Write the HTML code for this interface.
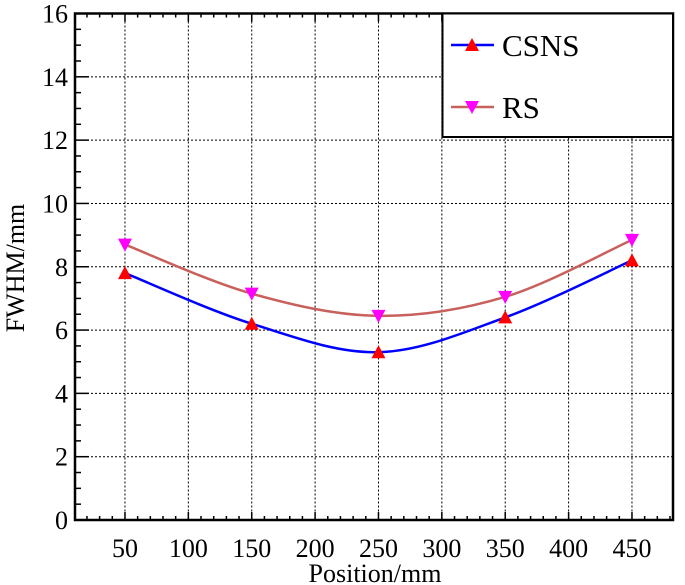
<!DOCTYPE html>
<html><head><meta charset="utf-8"><style>
body{margin:0;background:#fff}
svg{display:block}
text{font-family:"Liberation Serif","DejaVu Serif",serif}
</style></head><body>
<svg id="c" width="685" height="585" xmlns="http://www.w3.org/2000/svg"></svg>
<script>
const positions=[50,150,250,350,450];
const csnsValues=[7.8,6.2,5.3,6.4,8.2];
const rsValues=[8.7,7.15,6.45,7.05,8.85];
const xTicks=[50,100,150,200,250,300,350,400,450];
const yTicks=[0,2,4,6,8,10,12,14,16];
const NS='http://www.w3.org/2000/svg';
const svg=document.getElementById('c');
const L=75,R=673,T=13.5,B=520;
const FF='Liberation Serif, serif';
const X=v=>61.6+1.2675*v;
const Y=v=>B-(B-T)*v/16;
function mk(t,a,p){const e=document.createElementNS(NS,t);for(const k in a)e.setAttribute(k,a[k]);if(t==='text')e.setAttribute('font-family',FF);(p||svg).appendChild(e);return e;}
xTicks.forEach(v=>{const g=mk('line',{x1:X(v),x2:X(v),y1:T,y2:B,stroke:'#000','stroke-width':1,'stroke-dasharray':'2,2'});

});
yTicks.forEach(v=>{if(v==0||v==16)return;const g=mk('line',{x1:L,x2:R,y1:Y(v),y2:Y(v),stroke:'#000','stroke-width':1,'stroke-dasharray':'2,2'});

});
for(let v=20;v<=480;v+=10){const len=(v%50==0)?8:4;
mk('line',{x1:X(v),x2:X(v),y1:B,y2:B-len,stroke:'#000','stroke-width':1.5});
mk('line',{x1:X(v),x2:X(v),y1:T,y2:T+len,stroke:'#000','stroke-width':1.5});}
for(let v=0;v<=16;v+=0.5){const len=(v%2==0)?14:6;
mk('line',{x1:L,x2:L+len,y1:Y(v),y2:Y(v),stroke:'#000','stroke-width':1.5});}
const fr=mk('rect',{x:L,y:T,width:R-L,height:B-T,fill:'none',stroke:'#000','stroke-width':2.5});


yTicks.forEach(v=>{const t=mk('text',{x:68,y:Y(v)+9,'text-anchor':'end','font-size':26});t.textContent=v;

});
xTicks.forEach(v=>{const t=mk('text',{x:X(v),y:557,'text-anchor':'middle','font-size':26});t.textContent=v;

});
const xt=mk('text',{x:375,y:582,'text-anchor':'middle','font-size':26});xt.textContent='Position/mm';


const yt=mk('text',{x:0,y:0,'text-anchor':'middle','font-size':26,transform:'translate(24,268) rotate(-90)'});yt.textContent='FWHM/mm';


function curve(vals){const p=positions.map((x,i)=>[X(x),Y(vals[i])]);let d='M'+p[0][0]+','+p[0][1];
for(let i=0;i<p.length-1;i++){const p0=p[i-1]||p[i],p1=p[i],p2=p[i+1],p3=p[i+2]||p[i+1];
d+=` C${p1[0]+(p2[0]-p0[0])/6},${p1[1]+(p2[1]-p0[1])/6} ${p2[0]-(p3[0]-p1[0])/6},${p2[1]-(p3[1]-p1[1])/6} ${p2[0]},${p2[1]}`;}return d;}
const rl=mk('path',{d:curve(rsValues),fill:'none',stroke:'#c8605c','stroke-width':2.5});


const cl=mk('path',{d:curve(csnsValues),fill:'none',stroke:'#0000ff','stroke-width':2.5});


function up(x,y){return `${x-7},${y+6} ${x+7},${y+6} ${x},${y-7}`;}
function down(x,y){return `${x-7},${y-6} ${x+7},${y-6} ${x},${y+7}`;}
positions.forEach((p,i)=>{const m=mk('polygon',{points:up(X(p),Y(csnsValues[i])),fill:'#ff0000'});


const n=mk('polygon',{points:down(X(p),Y(rsValues[i])),fill:'#ff00ff'});

});
const lg=mk('g',{});


mk('rect',{x:442.5,y:T,width:R-442.5,height:137-T,fill:'#fff',stroke:'#000','stroke-width':2},lg);
mk('line',{x1:451,x2:494,y1:45,y2:45,stroke:'#0000ff','stroke-width':2.5},lg);
mk('polygon',{points:up(472,45),fill:'#ff0000'},lg);
const t1=mk('text',{x:502,y:56,'font-size':31},lg);t1.textContent='CSNS';


mk('line',{x1:451,x2:494,y1:107,y2:107,stroke:'#c8605c','stroke-width':2.5},lg);
mk('polygon',{points:down(472,107),fill:'#ff00ff'},lg);
const t2=mk('text',{x:502,y:118,'font-size':31},lg);t2.textContent='RS';


</script>
</body></html>
